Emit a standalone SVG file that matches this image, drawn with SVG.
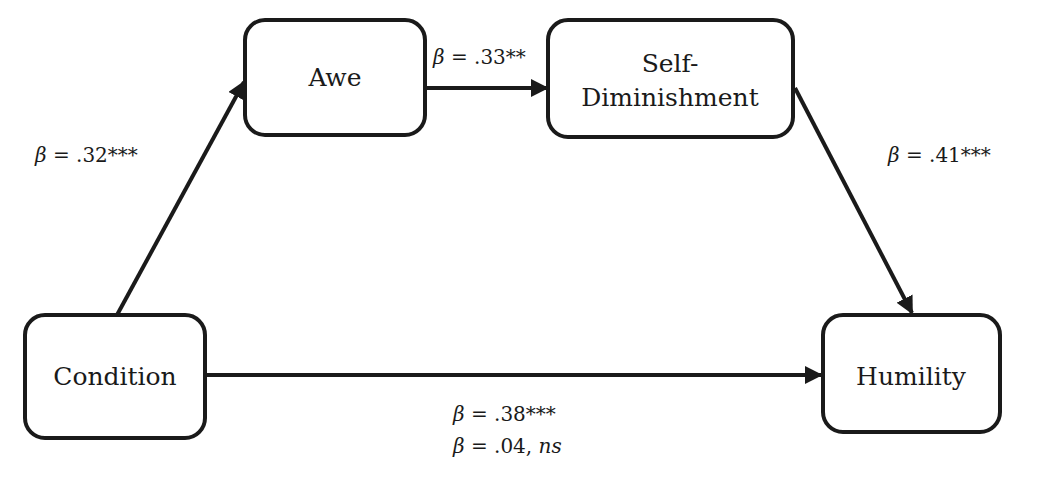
<svg xmlns="http://www.w3.org/2000/svg" width="1042" height="479" viewBox="0 0 1042 479">
<style>
.box{fill:#fff;stroke:#1a1a1a;stroke-width:4}
.t{font-family:"DejaVu Serif","Liberation Serif",serif;font-size:25px;fill:#1a1a1a}
.l{font-family:"DejaVu Serif","Liberation Serif",serif;font-size:20px;fill:#1a1a1a}
.c{stroke:#1a1a1a;stroke-width:4;fill:none;marker-end:url(#ah)}
</style>
<defs><marker id="ah" viewBox="0 0 10 10" refX="9" refY="5" markerWidth="4.5" markerHeight="4.5" orient="auto" markerUnits="strokeWidth"><path d="M0,0L10,5L0,10z" fill="#1a1a1a"/></marker></defs>
<rect width="1042" height="479" fill="#fff"/>
<g id="connectors">
<path class="c" d="M117,315L244,82"/>
<path class="c" d="M425,88L547,88"/>
<path class="c" d="M795,88L912,313"/>
<path class="c" d="M205,375L821,375"/>
</g>
<g id="awe"><rect class="box" x="245" y="20" width="180" height="115" rx="20"/><text class="t" x="335" y="86" text-anchor="middle">Awe</text></g>
<g id="selfdim"><rect class="box" x="548" y="20" width="245" height="117" rx="20"/><text class="t" x="670" y="72" text-anchor="middle">Self-</text><text class="t" x="670" y="106" text-anchor="middle">Diminishment</text></g>
<g id="condition"><rect class="box" x="25" y="315" width="180" height="123" rx="20"/><text class="t" x="115" y="385" text-anchor="middle">Condition</text></g>
<g id="humility"><rect class="box" x="823" y="315" width="177" height="117" rx="20"/><text class="t" x="911" y="385" text-anchor="middle">Humility</text></g>
<g id="labels">
<text class="l" x="35" y="162"><tspan font-style="italic">β</tspan> = .32***</text>
<text class="l" x="433" y="64"><tspan font-style="italic">β</tspan> = .33**</text>
<text class="l" x="888" y="162"><tspan font-style="italic">β</tspan> = .41***</text>
<text class="l" x="453" y="421"><tspan font-style="italic">β</tspan> = .38***</text>
<text class="l" x="453" y="453"><tspan font-style="italic">β</tspan> = .04, <tspan font-style="italic">ns</tspan></text>
</g>
</svg>
